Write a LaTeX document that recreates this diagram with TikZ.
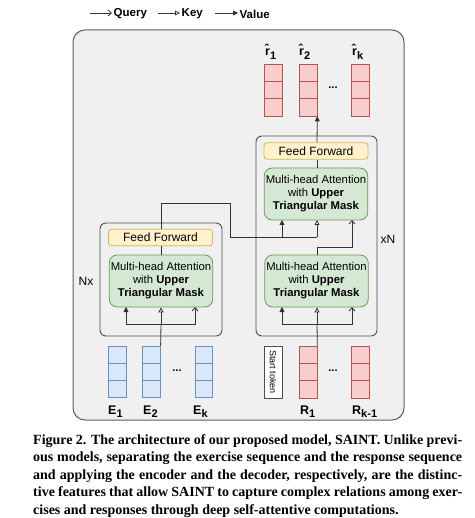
\documentclass[tikz,border=0pt]{standalone}
\usepackage{fontspec}
\setmainfont{Liberation Serif}
\setsansfont{Liberation Sans}
\usetikzlibrary{arrows.meta}
\definecolor{bgray}{HTML}{F0F0F0}
\definecolor{frameC}{HTML}{5E5E5E}
\definecolor{blockC}{HTML}{4D4D4D}
\definecolor{pinkF}{HTML}{F8CECC}
\definecolor{pinkD}{HTML}{B85450}
\definecolor{blueF}{HTML}{DAE8FC}
\definecolor{blueD}{HTML}{6C8EBF}
\definecolor{yelF}{HTML}{FFF2CC}
\definecolor{yelD}{HTML}{D6B656}
\definecolor{grnF}{HTML}{D5E8D4}
\definecolor{grnD}{HTML}{6A9A55}
\definecolor{lineC}{HTML}{333333}
\newcommand{\lab}[2]{{\sffamily\bfseries\fontsize{12.5}{14}\selectfont #1\raisebox{-3.5pt}{\fontsize{11}{12}\selectfont #2}}}
\begin{document}
\begin{tikzpicture}[x=1pt,y=-1pt,
  outerbox/.style={draw=frameC,fill=bgray,rounded corners=12pt,line width=1pt},
  blockbox/.style={draw=blockC,rounded corners=6pt,line width=0.9pt},
  ffbox/.style={draw=yelD,fill=yelF,rounded corners=3pt,line width=0.8pt,minimum width=104pt,minimum height=16.5pt,inner sep=0pt,font=\sffamily\fontsize{12}{14}\selectfont},
  mhabox/.style={draw=grnD,fill=grnF,rounded corners=8pt,line width=0.8pt,minimum width=103.5pt,minimum height=52pt,inner sep=0pt,align=center,font=\sffamily\fontsize{11.3}{13}\selectfont},
  bcell/.style={draw=blueD,fill=blueF,line width=0.7pt,minimum width=17.5pt,minimum height=17pt,inner sep=0pt},
  pcell/.style={draw=pinkD,fill=pinkF,line width=0.7pt,minimum width=18pt,minimum height=17.3pt,inner sep=0pt},
  conn/.style={draw=lineC,line width=0.8pt},
  qtip/.style={-{Straight Barb[length=3.5pt,width=6pt]}},
  ktip/.style={-{Triangle[open,length=5pt,width=5pt]}},
  vtip/.style={-{Triangle[length=5pt,width=5pt]}},
  lgtext/.style={font=\sffamily\bfseries\fontsize{11.5}{13}\selectfont,anchor=west,inner sep=0pt},
  dots/.style={font=\sffamily\bfseries\fontsize{11}{12}\selectfont,inner sep=0pt},
  multlab/.style={font=\sffamily\fontsize{12}{14}\selectfont,inner sep=0pt},
  collab/.style={anchor=base west,inner sep=0pt},
  captline/.style={anchor=base west,inner sep=0pt,font=\rmfamily\bfseries\fontsize{14}{18}\selectfont}
]
\useasboundingbox (0,0) rectangle (474,518);
\fill[white] (0,0) rectangle (474,518);

% legend
\coordinate (lq1) at (90,13); \coordinate (lq2) at (112,13);
\coordinate (lk1) at (158,13); \coordinate (lk2) at (180,13);
\coordinate (lv1) at (215,13); \coordinate (lv2) at (238,13);
\draw[conn,qtip] (lq1) -- (lq2);
\draw[conn,ktip] (lk1) -- (lk2);
\draw[conn,vtip] (lv1) -- (lv2);
\node[lgtext] (lgq) at (113.5,14) {Query};
\node[lgtext] (lgk) at (181.5,14) {Key};
\node[lgtext] (lgv) at (239.5,14) {Value};

% outer frame
\draw[outerbox] (73,30) rectangle (404,420);

% blocks
\draw[blockbox] (100,223) rectangle (222,336);
\draw[blockbox] (256,136) rectangle (377,336);
\node[multlab] (nx) at (86,281) {Nx};
\node[multlab] (xn) at (388,239) {xN};

% encoder
\node[ffbox] (eff) at (160.5,237.5) {Feed Forward};
\node[mhabox] (emha) at (161,281) {Multi-head Attention\\with \textbf{Upper}\\\textbf{Triangular Mask}};

% decoder
\node[ffbox] (dff) at (316,151) {Feed Forward};
\node[mhabox] (umha) at (316,194) {Multi-head Attention\\with \textbf{Upper}\\\textbf{Triangular Mask}};
\node[mhabox] (lmha) at (316.5,281) {Multi-head Attention\\with \textbf{Upper}\\\textbf{Triangular Mask}};

% E columns
\foreach \n/\x in {e1/117.5,e2/151.5,ek/204}{
  \foreach \i/\y in {a/354.5,b/371.5,c/388.5}{
    \node[bcell] (\n\i) at (\x,\y) {};
  }
}
\node[dots] (edots) at (177,371) {...};
\node[collab] (le1) at (108,414) {\lab{E}{1}};
\node[collab] (le2) at (143,414) {\lab{E}{2}};
\node[collab] (lek) at (193,414) {\lab{E}{k}};

% R columns
\node[draw=blockC,fill=white,line width=0.8pt,minimum width=18pt,minimum height=52pt,inner sep=0pt] (start) at (273,372)
  {\rotatebox{-90}{\sffamily\fontsize{9}{10}\selectfont Start token}};
\foreach \n/\x in {r1/308,rk/360}{
  \foreach \i/\y in {a/354.7,b/372,c/389.3}{
    \node[pcell] (\n\i) at (\x,\y) {};
  }
}
\node[dots] (rdots) at (333,371) {...};
\node[collab] (lr1) at (300,414) {\lab{R}{1}};
\node[collab] (lrk) at (352,414) {\lab{R}{k-1}};

% output columns
\foreach \n/\x in {o1/273,o2/308,ok/360}{
  \foreach \i/\y in {a/72.7,b/90,c/107.3}{
    \node[pcell] (\n\i) at (\x,\y) {};
  }
}
\node[dots] (odots) at (333,88) {...};
\node[collab] (lo1) at (265,56) {\lab{\^{r}}{1}};
\node[collab] (lo2) at (299,56) {\lab{\^{r}}{2}};
\node[collab] (lok) at (352,56) {\lab{\^{r}}{k}};

% encoder inputs
\coordinate (ej) at (161,324);
\coordinate (ev) at (126,307);
\coordinate (eq) at (195,307);
\draw[conn] (e2a.north east) -- (ej);
\draw[conn,vtip] (ej) -| (ev);
\draw[conn,ktip] (ej) -- (emha.south -| ej);
\draw[conn,qtip] (ej) -| (eq);
\draw[conn] (emha.north -| ej) -- (eff.south -| ej);

% encoder output to upper decoder attention
\coordinate (c1) at (161,203);
\coordinate (c2) at (230,203);
\coordinate (c3) at (230,237);
\coordinate (c4) at (317,237);
\coordinate (uv) at (282,220);
\coordinate (uk) at (317,220);
\coordinate (uq) at (352,220);
\draw[conn] (eff.north -| c1) -- (c1) -- (c2) -- (c3) -- (c4);
\draw[conn,vtip] (c3) -| (uv);
\draw[conn,ktip] (c4) -- (uk);
\coordinate (d1) at (317,247);
\draw[conn,qtip] (lmha.north -| d1) -- (d1) -| (uq);

% decoder inputs
\coordinate (dj) at (317,324);
\coordinate (dv) at (282,307);
\coordinate (dq) at (352,307);
\draw[conn] (r1a.north east) -- (dj);
\draw[conn,vtip] (dj) -| (dv);
\draw[conn,ktip] (dj) -- (lmha.south -| dj);
\draw[conn,qtip] (dj) -| (dq);

% decoder internal and output
\draw[conn] (umha.north -| uk) -- (dff.south -| uk);
\draw[conn,vtip] (dff.north -| uk) -- (o2c.south east);

% caption
\node[captline] (cap1) at (33,444) {\makebox[429pt][s]{Figure 2. The architecture of our proposed model, SAINT. Unlike previ-}};
\node[captline] (cap2) at (33,461.5) {\makebox[429pt][s]{ous models, separating the exercise sequence and the response sequence}};
\node[captline] (cap3) at (33,479) {\makebox[429pt][s]{and applying the encoder and the decoder, respectively, are the distinc-}};
\node[captline] (cap4) at (33,496.5) {\makebox[429pt][s]{tive features that allow SAINT to capture complex relations among exer-}};
\node[captline] (cap5) at (33,514) {cises and responses through deep self-attentive computations.};
\end{tikzpicture}
\end{document}
